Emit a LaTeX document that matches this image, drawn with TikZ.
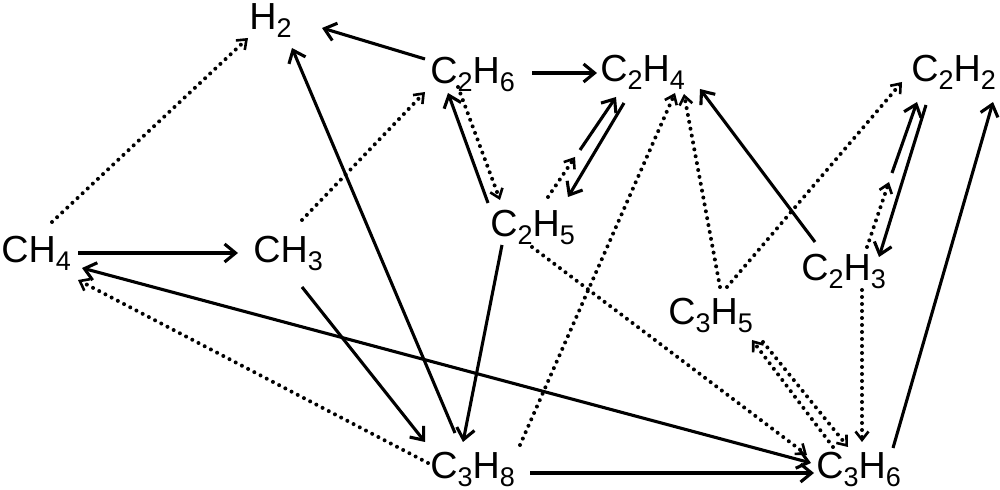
\documentclass[tikz,border=0pt]{standalone}
\usepackage{fontspec}
\setmainfont{Liberation Sans}
\usetikzlibrary{arrows.meta}
\newcommand\chemfont{\fontsize{18.85pt}{20pt}\selectfont}
\newcommand\chs[1]{\raisebox{-3.9pt}{\fontsize{13.5pt}{14pt}\selectfont #1}}
\tikzset{
  lbl/.style={anchor=base west, inner sep=0pt, font=\chemfont},
  rxn/.style={line width=1.55pt, -{Straight Barb[length=5.5pt,width=9pt,line width=1.55pt]}},
  rxnd/.style={line width=2pt, line cap=round, dash pattern=on 0pt off 3.5pt,
    -{Straight Barb[length=4.2pt,width=6.5pt,line width=1.3pt]}},
  rxnboth/.style={line width=1.55pt,
    {Straight Barb[length=5.5pt,width=9pt,line width=1.55pt]}-{Straight Barb[length=5.5pt,width=9pt,line width=1.55pt]}},
}
\begin{document}
\begin{tikzpicture}[x=0.5pt,y=-0.5pt]
\useasboundingbox (0,0) rectangle (1000,490);
% species
\node[lbl] (h2)   at (249,30)  {H\chs{2}};
\node[lbl] (ch4)  at (1,263)   {CH\chs{4}};
\node[lbl] (ch3)  at (253,263) {CH\chs{3}};
\node[lbl] (c2h6) at (430,84)  {C\chs{2}H\chs{6}};
\node[lbl] (c2h4) at (600,82)  {C\chs{2}H\chs{4}};
\node[lbl] (c2h2) at (911,82)  {C\chs{2}H\chs{2}};
\node[lbl] (c2h5) at (490,237) {C\chs{2}H\chs{5}};
\node[lbl] (c3h5) at (668,325) {C\chs{3}H\chs{5}};
\node[lbl] (c2h3) at (801,281) {C\chs{2}H\chs{3}};
\node[lbl] (c3h6) at (816,479) {C\chs{3}H\chs{6}};
\node[lbl] (c3h8) at (430,479) {C\chs{3}H\chs{8}};
% split-arrow joints
\coordinate (m1a) at (575,157);
\coordinate (m1b) at (580,150);
\coordinate (m2a) at (889,182);
\coordinate (m2b) at (892,173);
% connectors
\draw[rxnd] ([shift={(51,-41)}]ch4.base west) -- ([shift={(-1,8)}]h2.base west);
\draw[rxn]  ([shift={(-5,-25)}]c2h6.base west) -- ([shift={(73,-2)}]h2.base west);
\draw[rxn]  ([shift={(25,-46)}]c3h8.base west) -- ([shift={(43,18)}]h2.base west);
\draw[rxnd] ([shift={(49,-43)}]ch3.base west) -- ([shift={(-5,8)}]c2h6.base west);
\draw[rxn]  ([shift={(102,-11)}]c2h6.base west) -- ([shift={(-3,-9)}]c2h4.base west);
\draw[rxn]  ([shift={(-2,-34)}]c2h5.base west) -- ([shift={(18,9)}]c2h6.base west);
\draw[rxnd] ([shift={(28,3)}]c2h6.base west) -- ([shift={(10,-37)}]c2h5.base west);
\draw[rxn]  ([shift={(24,21)}]c2h4.base west) -- ([shift={(78,-40)}]c2h5.base west);
\draw[rxnd] ([shift={(58,-40)}]c2h5.base west) -- (m1a);
\draw[rxn]  (m1b) -- ([shift={(16,15)}]c2h4.base west);
\draw[rxnd] ([shift={(90,-34)}]c3h8.base west) -- ([shift={(75,11)}]c2h4.base west);
\draw[rxnd] ([shift={(52,-38)}]c3h5.base west) -- ([shift={(84,12)}]c2h4.base west);
\draw[rxn]  ([shift={(14,-39)}]c2h3.base west) -- ([shift={(100,7)}]c2h4.base west);
\draw[rxnd] ([shift={(59,-38)}]c3h5.base west) -- ([shift={(-9,0)}]c2h2.base west);
\draw[rxn]  ([shift={(77,-31)}]c3h6.base west) -- ([shift={(82,20)}]c2h2.base west);
\draw[rxn]  ([shift={(15,23)}]c2h2.base west) -- ([shift={(78,-24)}]c2h3.base west);
\draw[rxnd] ([shift={(66,-34)}]c2h3.base west) -- (m2a);
\draw[rxn]  (m2b) -- ([shift={(6,20)}]c2h2.base west);
\draw[rxnd] ([shift={(61,9)}]c2h3.base west) -- ([shift={(46,-37)}]c3h6.base west);
\draw[rxnd] ([shift={(17,-32)}]c3h6.base west) -- ([shift={(84,15)}]c3h5.base west);
\draw[rxnd] ([shift={(95,17)}]c3h5.base west) -- ([shift={(32,-32)}]c3h6.base west);
\draw[rxnd] ([shift={(42,10)}]c2h5.base west) -- ([shift={(-9,-24)}]c3h6.base west);
\draw[rxn]  ([shift={(100,-6)}]c3h8.base west) -- ([shift={(-2,-6)}]c3h6.base west);
\draw[rxnboth] ([shift={(81,5)}]ch4.base west) -- ([shift={(-5,-16)}]c3h6.base west);
\draw[rxnd] ([shift={(-2,-16)}]c3h8.base west) -- ([shift={(77,17)}]ch4.base west);
\draw[rxn]  ([shift={(49,24)}]ch3.base west) -- ([shift={(-5,-37)}]c3h8.base west);
\draw[rxn]  ([shift={(12,8)}]c2h5.base west) -- ([shift={(33,-37)}]c3h8.base west);
\draw[rxn]  ([shift={(77,-10)}]ch4.base west) -- ([shift={(-15,-10)}]ch3.base west);
\end{tikzpicture}
\end{document}
